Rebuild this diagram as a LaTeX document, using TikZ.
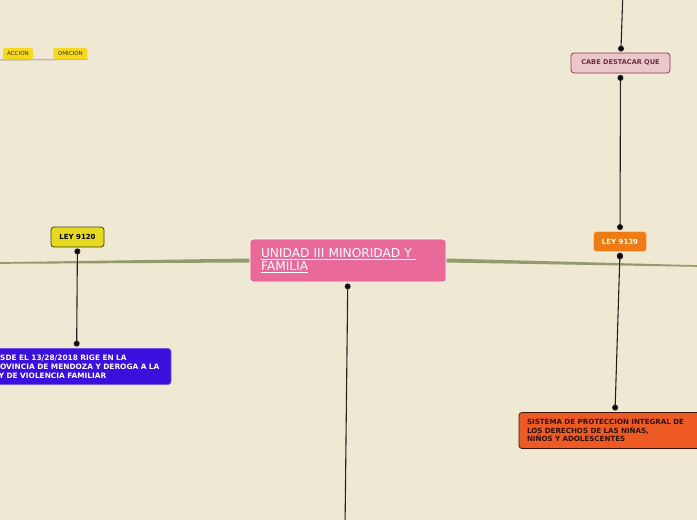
\documentclass[tikz,border=0pt]{standalone}
\usepackage{fontspec}
\setmainfont{DejaVu Sans}
\usepackage{tikz}
\usetikzlibrary{
        arrows.meta,
        backgrounds,
        positioning
    }
\definecolor{paper}{HTML}{EFE8D2}
\definecolor{branchgreen}{HTML}{8F9C6B}
\definecolor{rootpink}{HTML}{E96A98}
\definecolor{leyyellow}{HTML}{E6DA1E}
\definecolor{leyorange}{HTML}{F07A14}
\definecolor{desdeblue}{HTML}{3A10DC}
\definecolor{cabepink}{HTML}{EBC7CC}
\definecolor{cabered}{HTML}{8A3A50}
\definecolor{sistemared}{HTML}{EE5A24}
\definecolor{tagyellow}{HTML}{F8D81C}
\definecolor{linkgray}{HTML}{222222}
\tikzset{x=1pt,y=-1pt}
\tikzset{topic box/.style={rounded corners=3pt,line width=0.8pt,inner sep=0pt,align=left}}
\tikzset{ley box/.style={topic box,minimum width=53pt,minimum height=20pt,
        font=\fontsize{7}{8}\selectfont\bfseries}}
\tikzset{text box/.style={topic box,minimum height=36pt,inner xsep=7pt}}
\tikzset{tag box/.style={rounded corners=1.5pt,fill=tagyellow,inner sep=0pt,minimum height=11pt,
        font=\fontsize{5.6}{6}\selectfont,text=black!80}}
\tikzset{link/.style={{Circle[length=6pt]}-{Circle[length=6pt]},draw=linkgray,line width=1.1pt,
        shorten <=1pt,shorten >=1.5pt}}
\tikzset{branch/.style={fill=branchgreen}}

\begin{document}
\begin{tikzpicture}
    \useasboundingbox (0,0) rectangle (697,520);
    \clip (0,0) rectangle (697,520);
    % central topic
    \node[topic box,fill=rootpink,draw=white,minimum width=196pt,minimum height=43pt,
          text width=174pt,text=white,font=\fontsize{12.2}{13.6}\selectfont]
          (unidad) at (348,260.5) {\underline{UNIDAD III MINORIDAD Y\ }\\\underline{FAMILIA}};
    % left side
    \node[ley box,fill=leyyellow,draw=black!70!leyyellow] (ley9120) at (77.5,237) {LEY 9120};
    \node[text box,fill=desdeblue,draw=desdeblue!70!white,text width=175pt,text=white,
          font=\fontsize{7.4}{9}\selectfont\bfseries]
          (desde) at (76.5,366.5) {DESDE EL 13/28/2018 RIGE EN LA\\PROVINCIA DE MENDOZA Y DEROGA A LA\\LEY DE VIOLENCIA FAMILIAR};
    \node[tag box,minimum width=30pt] (accion) at (18,53.5) {ACCION};
    \node[tag box,minimum width=34pt] (omicion) [right=20pt of accion] {OMICION};
    % right side
    \node[ley box,fill=leyorange,draw=white!60!leyorange,text=white] (ley9139) at (620,241.5) {LEY 9139};
    \node[ley box,fill=cabepink,draw=cabered,minimum width=99pt,text=cabered!80!black,
          font=\fontsize{6.6}{7}\selectfont\bfseries] (cabe) at (620.5,63) {CABE DESTACAR QUE};
    \node[text box,fill=sistemared,draw=black!75!sistemared,text width=176pt,inner xsep=8pt,
          text=black!80!sistemared,font=\fontsize{7.1}{8.6}\selectfont\bfseries]
          (sistema) at (615,430.5) {SISTEMA DE PROTECCION INTEGRAL DE\\LOS DERECHOS DE LAS NIÑAS,\\NIÑOS Y ADOLESCENTES};
    % free ends
    \coordinate (lft) at (0,263);
    \coordinate (rgt) at (697,266);
    \coordinate (bottom) at (345,530);
    \coordinate (top) at (623,-10);
    \coordinate (tagline) at (0,60);
    \begin{scope}[on background layer]
        \fill[paper] (0,0) rectangle (697,520);
        \fill[branch] ([yshift=0.8pt]lft) -- ([yshift=2pt]unidad.west) -- ([yshift=-2pt]unidad.west) -- ([yshift=-0.8pt]lft) -- cycle;
        \fill[branch] ([yshift=2pt]unidad.east) -- ([yshift=0.8pt]rgt) -- ([yshift=-0.8pt]rgt) -- ([yshift=-2pt]unidad.east) -- cycle;
        \draw[line width=1.5pt,draw=black!20!paper] (tagline) -- (omicion.south east);
    \end{scope}
    \path[link]
        (ley9120) edge (desde)
        (ley9139) edge (cabe)
        (ley9139.south) edge (sistema.north);
    \path[link,-]
        (unidad) edge[{Circle[length=6pt]}-] (bottom)
        (cabe) edge[{Circle[length=6pt]}-] (top);
\end{tikzpicture}
\end{document}
